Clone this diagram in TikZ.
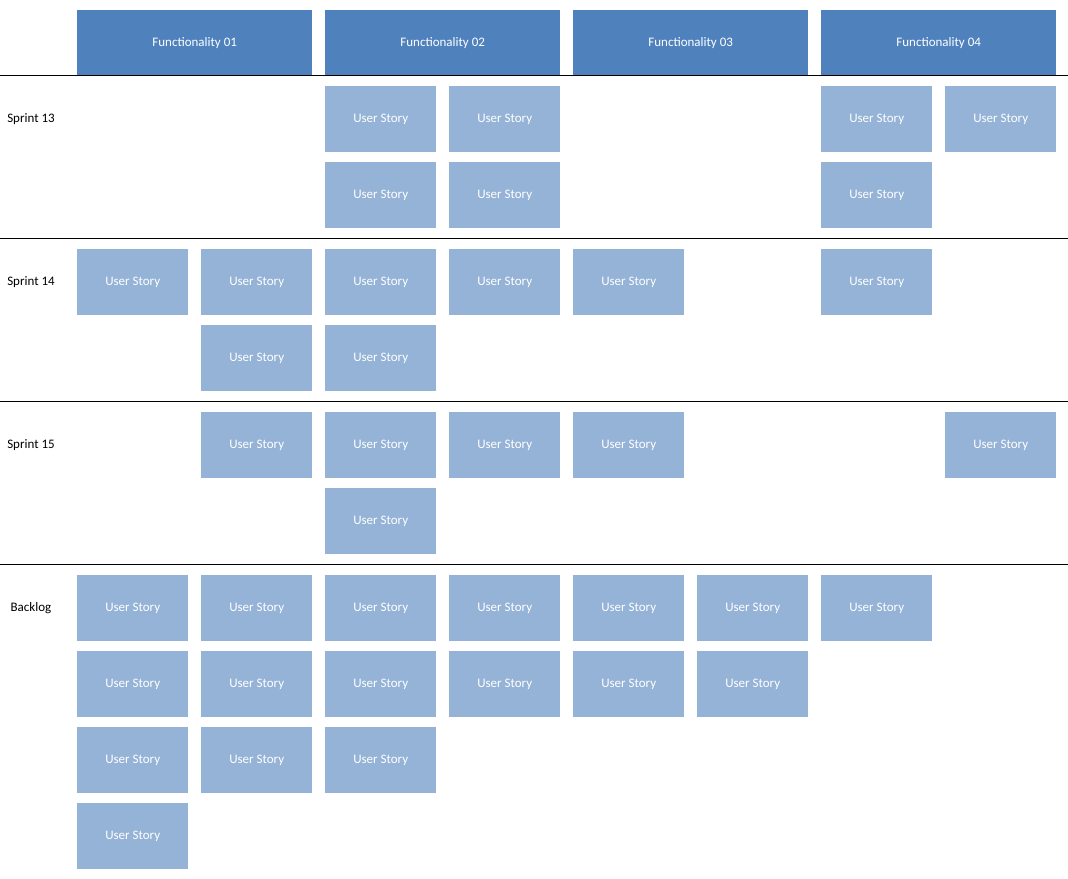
\documentclass[tikz,border=0pt]{standalone}
\usepackage{fontspec}
\setmainfont{Carlito}
\definecolor{hdr}{HTML}{4F81BD}
\definecolor{us}{HTML}{95B3D7}
\tikzset{
 hdrbox/.style={fill=hdr,text=white,minimum width=235pt,minimum height=65pt,inner sep=0,anchor=north west,font=\fontsize{13}{15}\selectfont},
 usbox/.style={fill=us,text=white,minimum width=111pt,minimum height=66pt,inner sep=0,anchor=north west,font=\fontsize{13}{15}\selectfont},
 rowlbl/.style={anchor=center,font=\fontsize{13}{15}\selectfont},
 sep/.style={black,line width=0.8pt}
}
\begin{document}
\begin{tikzpicture}[x=1pt,y=-1pt]
\useasboundingbox (0,0) rectangle (1068,878);
\foreach \i/\x in {1/77,2/325,3/573,4/821}
  \node[hdrbox] (h\i) at (\x,10) {Functionality 0\i};
\foreach \y [count=\k] in {75,238,401,564}{
  \coordinate (l\k a) at (0,\y); \coordinate (l\k b) at (1068,\y);
  \draw[sep] (l\k a) -- (l\k b);}
\node[rowlbl] (r1) at (31,119) {Sprint 13};
\node[rowlbl] (r2) at (31,282) {Sprint 14};
\node[rowlbl] (r3) at (31,445) {Sprint 15};
\node[rowlbl] (r4) at (31,608) {Backlog};
\foreach \c/\y [count=\n] in {2/86,3/86,6/86,7/86,2/162,3/162,6/162,
  0/249,1/249,2/249,3/249,4/249,6/249,1/325,2/325,
  1/412,2/412,3/412,4/412,7/412,2/488,
  0/575,1/575,2/575,3/575,4/575,5/575,6/575,
  0/651,1/651,2/651,3/651,4/651,5/651,
  0/727,1/727,2/727,0/803}
  \node[usbox] (s\n) at ({77+124*\c},\y) {User Story};
\end{tikzpicture}
\end{document}
